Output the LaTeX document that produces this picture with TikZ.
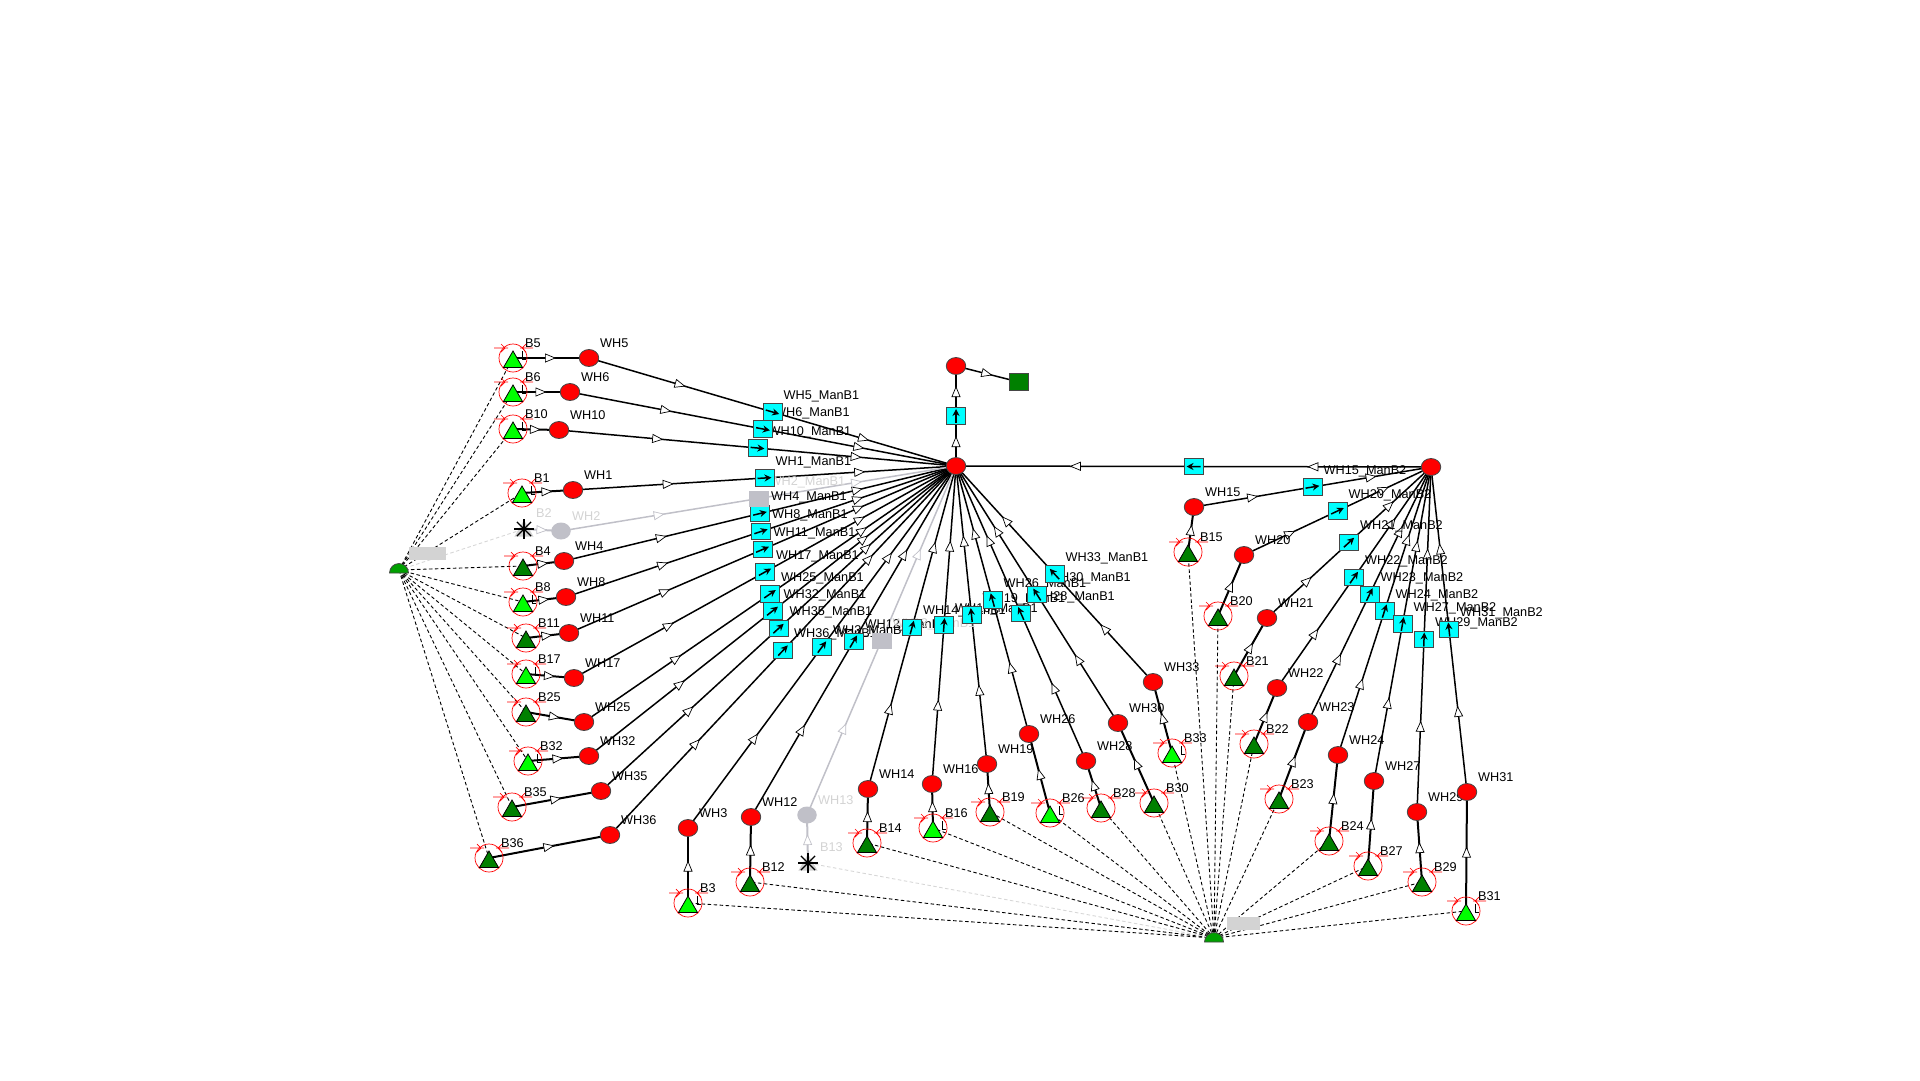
\documentclass[tikz,border=0pt]{standalone}
\usepackage{fontspec}
\setmainfont{Liberation Sans}
\usetikzlibrary{calc,arrows.meta,shapes.geometric,decorations.markings}
\pgfdeclarelayer{wires}
\pgfdeclarelayer{names}
\pgfsetlayers{wires,names,main}
\definecolor{lightgr}{RGB}{0,255,0}
\definecolor{darkgr}{RGB}{0,128,0}
\definecolor{domegr}{RGB}{0,160,0}
\definecolor{boxcyan}{RGB}{0,255,255}
\definecolor{offgrey}{RGB}{192,192,200}
\definecolor{dashgrey}{RGB}{215,215,215}
\definecolor{boxgrey}{RGB}{211,211,211}
\definecolor{edgegrey}{RGB}{70,70,70}
\tikzset{
    midtip/.tip={Triangle[fill=white,length=11pt,width=9pt,line width=.7pt]},
    mid/.style={postaction={decorate,decoration={markings,mark=at position .5 with {\arrow[xshift=5pt]{midtip}}}}},
    wire/.style={line width=1.5pt,mid},
    stub/.style={line width=2pt,mid},
    feed/.style={line width=.9pt,dash pattern=on 3.5pt off 2.5pt},
    wh/.style={ellipse,draw=edgegrey,fill=red,line width=.8pt,minimum width=19.5pt,minimum height=17pt,inner sep=0},
    manbox/.style={rectangle,draw=edgegrey,fill=boxcyan,line width=.9pt,minimum width=19pt,minimum height=16.5pt,inner sep=0},
    offbox/.style={rectangle,fill=offgrey,minimum width=20pt,minimum height=16pt,inner sep=0},
    ring/.style={circle,draw=red,line width=.7pt,minimum size=28pt,inner sep=0},
    tri/.style={regular polygon,regular polygon sides=3,draw=black,line width=.8pt,minimum size=22pt,inner sep=0},
    redmark/.style={draw=red,line width=.7pt},
    boxarrow/.style={-{Stealth[length=7pt,width=7pt]},line width=1.5pt},
    tag/.style={font=\fontsize{12.7pt}{14pt}\selectfont,inner sep=0,anchor=west},
    dome/.style={fill=domegr,draw=edgegrey,line width=.8pt},
}
\begin{document}
\begin{tikzpicture}[x=1pt,y=-1pt]
    \useasboundingbox (0,0) rectangle (1920,1080);

    % hubs and the top of the tree
    \node[wh] (hubone) at (956,466) {};
    \node[wh] (hubtwo) at (1431,467) {};
    \node[wh] (top) at (956,366) {};
    \node[rectangle,draw=edgegrey,fill=darkgr,line width=.9pt,minimum width=19pt,minimum height=17pt,inner sep=0] (sink) at (1019,382) {};
    \node[manbox] (mtop) at ($(hubone)!.5!(top)$) {};
    \node[manbox] (mlink) at ($(hubone)!.5!(hubtwo)$) {};
    \draw[boxarrow] ($(mtop)!-7pt!(top)$) -- ($(mtop)!7pt!(top)$);
    \draw[boxarrow] ($(mlink)!-7pt!(hubone)$) -- ($(mlink)!7pt!(hubone)$);
    \begin{pgfonlayer}{wires}
        \draw[wire] (hubone.center) -- (mtop.center);
        \draw[wire] (mtop.center) -- (top.center);
        \draw[wire] (top.center) -- (sink.center);
        \draw[wire] (hubtwo.center) -- (mlink.center);
        \draw[wire] (mlink.center) -- (hubone.center);
    \end{pgfonlayer}

    % the two sources
    \coordinate (srcl) at (399,570);
    \coordinate (srcr) at (1214,938);
    \node[rectangle,fill=boxgrey,minimum width=37pt,minimum height=13pt,inner sep=0] (gapl) at (427.5,553.5) {};
    \node[rectangle,fill=boxgrey,minimum width=33pt,minimum height=13pt,inner sep=0] (gapr) at (1243.5,923.5) {};
    \filldraw[dome] (389.5,573) arc[start angle=180,end angle=0,radius=9.5pt] -- cycle;
    \filldraw[dome] (1204.5,942) arc[start angle=180,end angle=0,radius=9.5pt] -- cycle;

    % n / bay x,y / triangle / tick / source / wh x,y / hub / man
    \foreach \n/\bx/\by/\tc/\tk/\src/\wx/\wy/\hub/\mn in {
        5/513/358/lightgr/black/srcl/589/358/hubone/ManB1,
        6/513/392/lightgr/black/srcl/570/392/hubone/ManB1,
        10/513/429/lightgr/black/srcl/559/430/hubone/ManB1,
        1/522/493/lightgr/black/srcl/573/490/hubone/ManB1,
        4/523/566/darkgr/none/srcl/564/561/hubone/ManB1,
        8/523/602/lightgr/black/srcl/566/597/hubone/ManB1,
        11/526/638/darkgr/none/srcl/569/633/hubone/ManB1,
        17/526/674/lightgr/black/srcl/574/678/hubone/ManB1,
        25/526/712/darkgr/none/srcl/584/722/hubone/ManB1,
        32/528/761/lightgr/black/srcl/589/756/hubone/ManB1,
        35/512/807/darkgr/none/srcl/601/791/hubone/ManB1,
        36/489/858/darkgr/none/srcl/610/835/hubone/ManB1,
        3/688/903/lightgr/black/srcr/688/828/hubone/ManB1,
        12/750/882/darkgr/none/srcr/751/817/hubone/ManB1,
        14/867/843/darkgr/none/srcr/868/789/hubone/ManB1,
        16/933/828/lightgr/black/srcr/932/784/hubone/ManB1,
        19/990/812/darkgr/none/srcr/987/764/hubone/ManB1,
        26/1050/813/lightgr/black/srcr/1029/734/hubone/ManB1,
        28/1101/808/darkgr/none/srcr/1086/761/hubone/ManB1,
        30/1154/803/darkgr/none/srcr/1118/723/hubone/ManB1,
        33/1172/753/lightgr/black/srcr/1153/682/hubone/ManB1,
        15/1188/552/darkgr/none/srcr/1194/507/hubtwo/ManB2,
        20/1218/616/darkgr/none/srcr/1244/555/hubtwo/ManB2,
        21/1234/676/darkgr/none/srcr/1267/618/hubtwo/ManB2,
        22/1254/744/darkgr/none/srcr/1277/688/hubtwo/ManB2,
        23/1279/799/darkgr/none/srcr/1308/722/hubtwo/ManB2,
        24/1329/841/darkgr/none/srcr/1338/755/hubtwo/ManB2,
        27/1368/866/darkgr/none/srcr/1374/781/hubtwo/ManB2,
        29/1422/882/darkgr/none/srcr/1417/812/hubtwo/ManB2,
        31/1466/911/lightgr/black/srcr/1467/792/hubtwo/ManB2%
    } {
        \node[ring] (b\n) at (\bx,\by) {};
        \node[tri,fill=\tc] (t\n) at ($(b\n)+(0,4)$) {};
        \node[wh] (wh\n) at (\wx,\wy) {};
        \node[manbox] (m\n) at ($(wh\n)!.5!(\hub)$) {};
        \draw[boxarrow] ($(m\n)!-7pt!(\hub)$) -- ($(m\n)!7pt!(\hub)$);
        \begin{scope}[shift={(b\n)}]
            \draw[redmark] (-19,-10) -- (-5,-10) (-12,-14) -- (-8,-10) -- (-12,-6);
            \draw[redmark] (20,-10) -- (7,-10) (13,-14) -- (9,-10) -- (13,-6);
            \draw[draw=\tk,line width=1pt] (9,-7) -- (9,1) -- (13,1);
        \end{scope}
        \begin{pgfonlayer}{names}
            \node[tag] (lb\n) at ($(b\n)+(12,-15)$) {B\n};
            \node[tag] (lwh\n) at ($(wh\n)+(11,-15)$) {WH\n};
            \node[tag] (lm\n) at ($(m\n)+(11,-16)$) {WH\n\_\mn};
        \end{pgfonlayer}
        \begin{pgfonlayer}{wires}
            \draw[feed] (\src) -- (b\n.center);
            \draw[stub] (b\n.center) -- (wh\n.center);
            \draw[wire] (wh\n.center) -- (m\n.center);
            \draw[wire] (m\n.center) -- (\hub.center);
        \end{pgfonlayer}
    }

    % the two branches that are switched off
    \foreach \n/\bx/\by/\src/\wx/\wy in {2/524/529/srcl/561/531,13/808/863/srcr/807/815} {
        \node[inner sep=0,minimum size=20pt] (b\n) at (\bx,\by) {};
        \node[tri,draw=none,fill=boxgrey] (t\n) at ($(b\n)+(0,2)$) {};
        \foreach \a in {0,45,90,135} {
            \draw[line width=1.3pt] ($(b\n)+(\a:10)$) -- ($(b\n)+(\a+180:10)$);
        }
        \node[wh,draw=none,fill=offgrey] (wh\n) at (\wx,\wy) {};
        \node[offbox] (m\n) at ($(wh\n)!.5!(hubone)$) {};
        \begin{pgfonlayer}{names}
            \node[tag,text=boxgrey] (lb\n) at ($(b\n)+(12,-16)$) {B\n};
            \node[tag,text=boxgrey] (lwh\n) at ($(wh\n)+(11,-15)$) {WH\n};
            \node[tag,text=boxgrey] (lm\n) at ($(m\n)+(11,-16)$) {WH\n\_ManB1};
        \end{pgfonlayer}
        \begin{pgfonlayer}{wires}
            \draw[feed,color=dashgrey] (\src) -- (b\n.center);
            \draw[stub,color=offgrey] (b\n.center) -- (wh\n.center);
            \draw[wire,color=offgrey] (wh\n.center) -- (m\n.center);
            \draw[wire,color=offgrey] (m\n.center) -- (hubone.center);
        \end{pgfonlayer}
    }
\end{tikzpicture}
\end{document}
